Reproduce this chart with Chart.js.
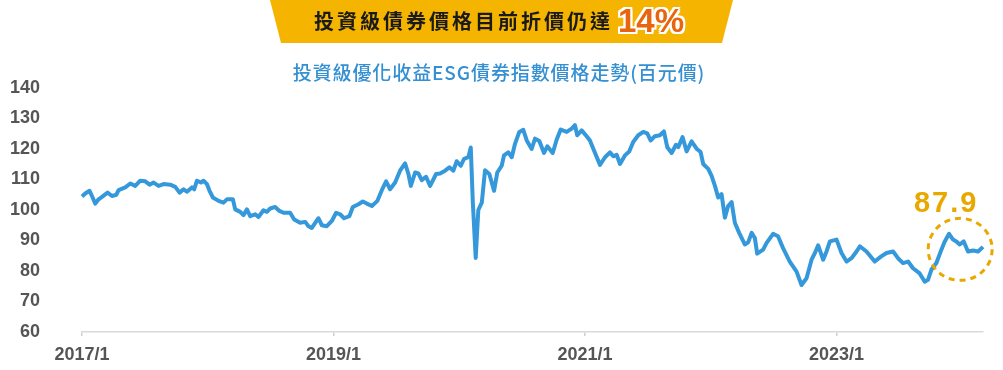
<!DOCTYPE html>
<html>
<head>
<meta charset="utf-8">
<script src="https://cdn.jsdelivr.net/npm/chart.js@4.4.1/dist/chart.umd.min.js"></script>
<style>
  html, body { margin: 0; padding: 0; background: #fff; }
  #wrap { position: relative; width: 1003px; height: 370px; overflow: hidden; }
  #chart { position: absolute; left: 0; top: 0; }
  #banner {
    position: absolute; left: 270px; top: 0; width: 463px; height: 43px;
    background: #F5B400;
    clip-path: polygon(0 0, 463px 0, 452px 43px, 11px 43px);
  }
  #bannerText {
    position: absolute; left: 0; top: 0; width: 998px; height: 37px;
    text-align: center; white-space: nowrap; line-height: 37px;
  }
  #bannerText .t {
    font-family: "Noto Sans CJK TC", "Noto Sans CJK SC", sans-serif;
    font-weight: 700; font-size: 20px; letter-spacing: 3px; color: #1a1a1a;
    vertical-align: middle;
  }
  #bannerText .pct {
    font-family: "Liberation Sans", Arial, sans-serif;
    font-weight: 700; font-size: 33px; color: #E8650F; margin-left: 5px;
    vertical-align: middle;
    text-shadow: -2px -2px 0 #fff, 2px -2px 0 #fff, -2px 2px 0 #fff, 2px 2px 0 #fff,
                 0 -2px 0 #fff, 0 2px 0 #fff, -2px 0 0 #fff, 2px 0 0 #fff;
  }
  #subtitle {
    position: absolute; left: 0; top: 58px; width: 998px; text-align: center;
    font-family: "Noto Sans CJK TC", "Noto Sans CJK SC", sans-serif;
    font-weight: 500; font-size: 19px; line-height: 28px; color: #3490D2;
    letter-spacing: 0.9px; white-space: nowrap;
  }
</style>
</head>
<body>
<div id="wrap">
  <canvas id="chart" width="1003" height="370"></canvas>
  <div id="banner"></div>
  <div id="bannerText"><span class="t">投資級債券價格目前折價仍達</span><span class="pct">14%</span></div>
  <div id="subtitle">投資級優化收益ESG債券指數價格走勢(百元價)</div>
</div>
<script>
// months counted from 2017/1
const months = [
  0, 0.31, 0.72, 0.95, 1.27, 1.58, 1.91, 2.44, 2.86, 3.27,
  3.49, 4.13, 4.61, 5.08, 5.56, 6.04, 6.45, 6.83, 7.31, 7.78,
  8.42, 8.90, 9.31, 9.69, 10.01, 10.49, 10.71, 10.97, 11.35, 11.60,
  11.92, 12.17, 12.49, 13.03, 13.50, 13.83, 14.40, 14.62, 15.10, 15.41,
  15.74, 16.05, 16.53, 16.84, 17.32, 17.64, 17.96, 18.43, 18.84, 19.23,
  19.86, 20.25, 20.82, 21.30, 21.61, 21.93, 22.56, 22.89, 23.36, 23.84,
  24.25, 24.63, 25.01, 25.52, 25.84, 26.38, 26.80, 27.18, 27.66, 28.19,
  28.61, 29.02, 29.40, 29.88, 30.35, 30.83, 31.15, 31.38, 31.79, 32.10,
  32.42, 32.83, 33.22, 33.79, 34.17, 34.65, 35.06, 35.44, 35.76, 36.14,
  36.46, 36.87, 37.10, 37.29, 37.57, 37.82, 38.15, 38.46, 38.87, 39.32,
  39.63, 40.05, 40.27, 40.68, 41.01, 41.32, 41.73, 42.11, 42.44, 42.91,
  43.23, 43.64, 44.09, 44.40, 44.92, 45.30, 45.68, 46.25, 46.73, 47.04,
  47.26, 47.68, 48.16, 48.47, 48.86, 49.43, 49.91, 50.38, 50.70, 51.02,
  51.34, 51.81, 52.22, 52.60, 53.08, 53.56, 53.94, 54.26, 54.67, 55.15,
  55.53, 55.85, 56.27, 56.68, 56.90, 57.31, 57.70, 58.17, 58.65, 59.03,
  59.28, 59.76, 60.08, 60.40, 60.71, 61.03, 61.35, 61.66, 61.99, 62.30,
  62.71, 63.25, 63.57, 63.90, 64.21, 64.43, 65.00, 65.33, 65.95, 66.42,
  66.90, 67.54, 68.19, 68.66, 69.14, 69.62, 69.94, 70.25, 70.73, 71.05,
  71.37, 72.00, 72.48, 72.96, 73.43, 73.91, 74.23, 74.86, 75.65, 76.27,
  76.77, 77.40, 77.87, 78.35, 78.83, 79.30, 79.94, 80.42, 80.73, 81.05,
  81.53, 82.01, 82.33, 82.74, 83.12, 83.44, 83.76, 84.14, 84.55, 85.03,
  85.51, 85.98
];

// index price (per 100)
const prices = [
  104.4, 105.4, 106.3, 104.6, 102.1, 103.5, 104.3, 105.7, 104.6, 105,
  106.5, 107.4, 108.7, 107.9, 109.6, 109.4, 108.3, 109, 107.9, 108.5,
  108.3, 107.6, 105.7, 106.8, 106, 107.4, 106.8, 109.6, 109, 109.6,
  108.5, 106.3, 104.1, 103, 102.4, 103.5, 103.5, 100.2, 99.4, 98.3,
  100.2, 98, 98.6, 97.7, 99.9, 99.4, 100.5, 101, 99.7, 99.1,
  99.1, 96.9, 95.8, 96.1, 94.7, 94.1, 97.3, 95, 94.7, 96.4,
  99.1, 98.6, 97.3, 98, 101, 101.9, 102.8, 102.1, 101.3, 103,
  106.5, 109.4, 106.8, 109, 112.9, 115.3, 111.8, 107.9, 112.3, 112,
  109.8, 110.9, 107.9, 111.8, 112, 112.9, 114, 112.9, 116, 114.5,
  116.8, 117.3, 120.5, 103, 84.3, 100, 102.4, 113, 111.8, 106.3,
  112.3, 114.5, 117.9, 118.9, 117.3, 121.7, 125.6, 126.3, 122.8, 120,
  123.4, 122.6, 118.7, 120.9, 118.7, 123.1, 126.4, 125.6, 126.7, 127.8,
  124.5, 126.1, 124.2, 122.8, 119.5, 114.8, 117.3, 118.9, 117.6, 118.1,
  115.1, 117.9, 119.2, 122.3, 124.5, 125.6, 125.1, 122.8, 124.2, 124.5,
  125.8, 120.6, 118.7, 121.4, 120.6, 123.9, 119.2, 122.5, 120.1, 119,
  115.1, 113.5, 111.2, 107.9, 104.1, 105.2, 97.5, 101.3, 102.6, 95.8,
  92.5, 88.7, 89.4, 92.5, 90.8, 85.7, 87, 89.2, 92.2, 91.4,
  87.5, 83.1, 79.8, 75.4, 77.6, 83.7, 85.9, 88.4, 83.7, 86.4,
  89.7, 90.3, 85.9, 83.1, 84.2, 86.4, 88.1, 86.4, 83.1, 84.8,
  85.9, 86.4, 84.2, 82.6, 83.1, 80.9, 79.2, 76.5, 77.1, 80.4,
  82.6, 87, 89.7, 92.2, 90.3, 89.7, 88.7, 89.7, 86.4, 86.7,
  86.4, 87.9
];

const tickMonths = [0, 24, 48, 72];
const tickLabels = ['2017/1', '2019/1', '2021/1', '2023/1'];

const axisFont = { family: "'Liberation Sans', Arial, sans-serif", size: 18, weight: 'bold' };

// dashed ring + latest value above it
const highlightPlugin = {
  id: 'highlight',
  afterDatasetsDraw(chart, args, opts) {
    const { ctx, scales: { x, y } } = chart;
    const cx = x.getPixelForValue(opts.x);
    const cy = y.getPixelForValue(opts.y);
    ctx.save();
    ctx.strokeStyle = opts.color;
    ctx.lineWidth = 3;
    ctx.setLineDash([6, 5]);
    ctx.beginPath();
    ctx.ellipse(cx, cy, opts.rx, opts.ry, 0, 0, Math.PI * 2);
    ctx.stroke();
    ctx.setLineDash([]);
    ctx.fillStyle = opts.color;
    ctx.font = "bold 29px 'Liberation Sans', Arial, sans-serif";
    ctx.letterSpacing = '2px';
    ctx.textAlign = 'center';
    ctx.textBaseline = 'alphabetic';
    ctx.fillText(opts.text, cx - 14, cy - opts.ry - 6);
    ctx.restore();
  }
};

const n = Math.min(months.length, prices.length);
const points = [];
for (let i = 0; i < n; i++) points.push({ x: months[i], y: prices[i] });

new Chart(document.getElementById('chart'), {
  type: 'line',
  data: {
    datasets: [{
      data: points,
      borderColor: '#3498DB',
      borderWidth: 4,
      pointRadius: 0,
      tension: 0,
      borderJoinStyle: 'round',
      clip: 6
    }]
  },
  options: {
    responsive: false,
    animation: false,
    layout: { padding: { left: 10, right: 20, top: 88, bottom: 2 } },
    plugins: {
      legend: { display: false },
      tooltip: { enabled: false },
      highlight: {
        x: 83.8, y: 87.1, rx: 32, ry: 31,
        color: '#E8A800',
        text: prices[n - 1].toFixed(1)
      }
    },
    scales: {
      x: {
        type: 'linear',
        min: 0,
        max: months[n - 1],
        afterBuildTicks: s => { s.ticks = tickMonths.map(v => ({ value: v })); },
        afterFit: s => { s.height = 36; s.paddingLeft = 0; s.paddingRight = 0; },
        ticks: {
          callback: (v, i) => tickLabels[i],
          color: '#555',
          font: axisFont,
          padding: 8,
          maxRotation: 0,
          autoSkip: false
        },
        grid: { display: true, drawOnChartArea: false, drawTicks: true, tickLength: 4, color: '#d0d0d0', lineWidth: 1.5 },
        border: { display: true, color: '#d9d9d9', width: 1.5 }
      },
      y: {
        min: 60,
        max: 140,
        afterFit: s => { s.width = 72; s.paddingTop = 0; s.paddingBottom = 0; },
        ticks: { stepSize: 10, color: '#555', font: axisFont, padding: 42 },
        grid: { display: false, drawTicks: false },
        border: { display: false }
      }
    }
  },
  plugins: [highlightPlugin]
});
</script>
</body>
</html>
